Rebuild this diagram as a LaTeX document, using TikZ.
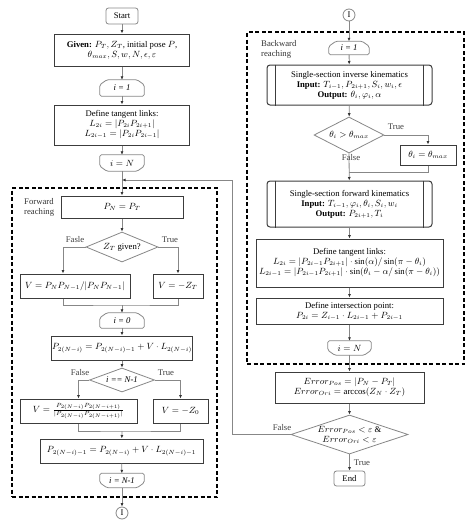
\documentclass[tikz,border=0pt]{standalone}
\usepackage{amsmath}
\usepackage{amssymb}
\usepackage{fontspec}
\setmainfont{Liberation Serif}
\usetikzlibrary{calc}
\usetikzlibrary{arrows.meta}
\usetikzlibrary{shapes.geometric}
\tikzset{>=latex}
\definecolor{linegray}{RGB}{135,135,135}
\definecolor{boxgray}{RGB}{60,60,60}
\tikzstyle{terminal} = [rectangle, rounded corners=2.5pt, draw=linegray, thick, inner sep=1pt]
\tikzstyle{procbox} = [rectangle, draw=boxgray, line width=1pt, align=center, inner sep=1pt]
\tikzstyle{subproc} = [rectangle, rounded corners=3pt, draw=boxgray, line width=1pt, align=center, inner sep=1pt]
\tikzstyle{decide} = [diamond, draw=linegray, thick, inner sep=0pt, align=center]
\tikzstyle{loopnode} = [rectangle, inner sep=0pt]
\tikzstyle{conn} = [circle, draw=linegray, thick, inner sep=0pt, minimum size=12pt]
\tikzstyle{flow} = [-{Latex[length=3.5pt, width=3pt, color=black!80]}, draw=linegray, thick]
\tikzstyle{wire} = [-, draw=linegray, thick]
\tikzstyle{reach} = [draw=black, line width=1.1pt, dash pattern=on 4pt off 2.5pt]
\tikzstyle{lbl} = [text=black!75, inner sep=1pt]
\newcommand{\looptop}[1]{\draw [linegray, thick, rounded corners=1.5pt] ([yshift=-5pt]#1.north west) -- ([xshift=7pt]#1.north west) -- ([xshift=-7pt]#1.north east) -- ([yshift=-5pt]#1.north east) -- (#1.south east) -- (#1.south west) -- cycle;}
\newcommand{\loopbottom}[1]{\draw [linegray, thick, rounded corners=1.5pt] ([yshift=5pt]#1.south west) -- (#1.north west) -- (#1.north east) -- ([yshift=5pt]#1.south east) -- ([xshift=-7pt]#1.south east) -- ([xshift=7pt]#1.south west) -- cycle;}
\newcommand{\subsides}[1]{\draw [boxgray, line width=0.8pt] ([xshift=9pt]#1.north west) -- ([xshift=9pt]#1.south west) ([xshift=-9pt]#1.north east) -- ([xshift=-9pt]#1.south east);}

\begin{document}
\begin{tikzpicture}[x=1pt, y=-1pt, every node/.style={font=\fontsize{8.7}{10}\selectfont}]
\useasboundingbox (0,0) rectangle (474,528);
% left column
\node [terminal, minimum width=32pt, minimum height=16pt] (start) at (122,16) {Start};
\node [procbox, minimum width=135pt, minimum height=32pt] (given) at (122,50) {\textbf{Given:} $P_T, Z_T$, initial pose $P$,\\ $\theta_{max}, S, w, N, \epsilon, \varepsilon$};
\node [loopnode, minimum width=44pt, minimum height=16pt] (loopA) at (122,88) {\textit{i = 1}};
\node [procbox, minimum width=135pt, minimum height=40pt] (tangA) at (122,125) {Define tangent links:\\ $L_{2i} = |P_{2i}P_{2i+1}|$\\ $L_{2i-1} = |P_{2i}P_{2i-1}|$};
\node [loopnode, minimum width=44pt, minimum height=16pt] (loopB) at (122,163) {$i = N$};
\node [reach, minimum width=205pt, minimum height=309pt] (fwd) at (114.5,342.5) {};
\node [lbl, align=left, anchor=north west, text=black!80] (fwdlbl) at (23,197) {Forward\\reaching};
\node [procbox, minimum width=122pt, minimum height=22pt] (pnpt) at (122,207) {$P_N = P_T$};
\node [decide, minimum width=72pt, minimum height=30pt, aspect=2.4] (decZ) at (122,247) {$Z_T$ given?};
\node [procbox, minimum width=110pt, minimum height=24pt] (vleft) at (75,286) {$V = P_N P_{N-1}/|P_N P_{N-1}|$};
\node [procbox, minimum width=50pt, minimum height=24pt] (vright) at (178,286) {$V = -Z_T$};
\coordinate (mergeA) at (122,305);
\node [loopnode, minimum width=44pt, minimum height=15pt] (loopC) at (122,320.5) {\textit{i = 0}};
\node [procbox, minimum width=135pt, minimum height=24pt] (pfwd) at (122,348) {$P_{2(N-i)} = P_{2(N-i)-1} + V\cdot L_{2(N-i)}$};
\node [decide, minimum width=65pt, minimum height=24pt, aspect=2.7] (decI) at (122,380) {\textit{i == N-1}};
\node [procbox, minimum width=117pt, minimum height=24pt] (vleftB) at (78.5,411) {$V = \frac{P_{2(N-i)}P_{2(N-i+1)}}{|P_{2(N-i)}P_{2(N-i+1)}|}$};
\node [procbox, minimum width=55pt, minimum height=24pt] (vrightB) at (180.5,411) {$V = -Z_0$};
\coordinate (mergeB) at (122,431);
\node [procbox, minimum width=163pt, minimum height=24pt] (pfwdB) at (121.5,451) {$P_{2(N-i)-1} = P_{2(N-i)} + V\cdot L_{2(N-i)-1}$};
\node [loopnode, minimum width=44pt, minimum height=14pt] (loopD) at (122,480.5) {\textit{i = N-1}};
\node [conn] (conA) at (122,513) {I};
\coordinate (join) at (122,180);
% right column
\node [conn] (conB) at (349,15) {I};
\node [reach, minimum width=217pt, minimum height=332pt] (bwd) at (355.5,198) {};
\node [lbl, align=left, anchor=north west, text=black!80] (bwdlbl) at (260,39) {Backward\\reaching};
\node [loopnode, minimum width=40pt, minimum height=13pt] (loopE) at (349,48) {\textit{i = 1}};
\node [subproc, minimum width=165pt, minimum height=40pt] (ik) at (349.5,85) {Single-section inverse kinematics\\ \textbf{Input:} $T_{i-1}, P_{2i+1}, S_i, w_i, \epsilon$\\ \textbf{Output:} $\theta_i, \varphi_i, \alpha$};
\node [decide, minimum width=70pt, minimum height=36pt, aspect=2] (decT) at (349,135) {$\theta_i > \theta_{max}$};
\node [procbox, minimum width=56pt, minimum height=20pt] (clamp) at (428,155) {$\theta_i = \theta_{max}$};
\coordinate (mergeC) at (349,172);
\node [subproc, minimum width=165pt, minimum height=46pt] (fk) at (349.5,204) {Single-section forward kinematics\\ \textbf{Input:} $T_{i-1}, \varphi_i, \theta_i, S_i, w_i$\\ \textbf{Output:} $P_{2i+1}, T_i$};
\node [procbox, minimum width=187pt, minimum height=48pt] (tangB) at (349.5,263) {Define tangent links:\\ $L_{2i} = |P_{2i-1}P_{2i+1}|\cdot\sin(\alpha)/\sin(\pi-\theta_i)$\\ $L_{2i-1} = |P_{2i-1}P_{2i+1}|\cdot\sin(\theta_i-\alpha/\sin(\pi-\theta_i))$};
\node [procbox, minimum width=187pt, minimum height=26pt] (inter) at (349.5,311) {Define intersection point:\\ $P_{2i} = Z_{i-1}\cdot L_{2i-1} + P_{2i-1}$};
\node [loopnode, minimum width=43pt, minimum height=14pt] (loopF) at (349.5,348) {$i = N$};
\node [procbox, minimum width=149pt, minimum height=31pt] (err) at (349.5,387.5) {$Error_{Pos} = |P_N - P_T|$\\ $Error_{Ori} = \arccos(Z_N\cdot Z_T)$};
\node [decide, minimum width=117pt, minimum height=39pt, aspect=3] (decE) at (349.5,434.5) {$Error_{Pos} < \varepsilon$ \&\\ $Error_{Ori} < \varepsilon$};
\node [terminal, minimum width=31pt, minimum height=15pt] (end) at (349.5,478.5) {End};
\coordinate (backturn) at (232,180);
\looptop{loopA}
\loopbottom{loopB}
\looptop{loopC}
\loopbottom{loopD}
\looptop{loopE}
\loopbottom{loopF}
\subsides{ik}
\subsides{fk}
\draw [flow] (start) to (given);
\draw [flow] (given) to (loopA);
\draw [flow] (loopA) to (tangA);
\draw [flow] (tangA) to (loopB);
\draw [flow] (loopB) to (pnpt);
\draw [flow] (pnpt) to (decZ);
\draw [flow] (decZ.west) -| ([xshift=-12pt]vleft.north);
\draw [flow] (decZ.east) -| (vright.north);
\draw [wire] ([xshift=-12pt]vleft.south) |- (mergeA) -| (vright.south);
\draw [flow] (mergeA) to (loopC);
\draw [flow] (loopC) to (pfwd);
\draw [flow] (pfwd) to (decI);
\draw [flow] (decI.west) -| (vleftB.north);
\draw [flow] (decI.east) -| (vrightB.north);
\draw [wire] (vleftB.south) |- (mergeB) -| (vrightB.south);
\draw [flow] (mergeB) to (pfwdB);
\draw [flow] (pfwdB) to (loopD);
\draw [flow] (loopD) to (conA);
\node [lbl] (fasle) at (75,240) {Fasle};
\node [lbl] (trueZ) at (170,240) {True};
\node [lbl] (falseI) at (80,373) {False};
\node [lbl] (trueI) at (166,373) {True};
\draw [flow] (conB) to (loopE);
\draw [flow] (loopE) to (ik);
\draw [flow] (ik) to (decT);
\draw [flow] (decT.east) -| (clamp.north);
\draw [wire] (clamp.south) |- (mergeC);
\draw [flow] (decT.south) to (fk);
\draw [flow] (fk) to (tangB);
\draw [flow] (tangB) to (inter);
\draw [flow] (inter) to (loopF);
\draw [flow] (loopF) to (err);
\draw [flow] (err) to (decE);
\draw [flow] (decE) to (end);
\draw [flow] (decE.west) -| (backturn) -- (join);
\node [lbl] (trueT) at (396,127) {True};
\node [lbl] (falseT) at (351,158) {False};
\node [lbl] (falseE) at (282,428) {False};
\node [lbl] (trueE) at (362,463) {True};
\end{tikzpicture}
\end{document}
